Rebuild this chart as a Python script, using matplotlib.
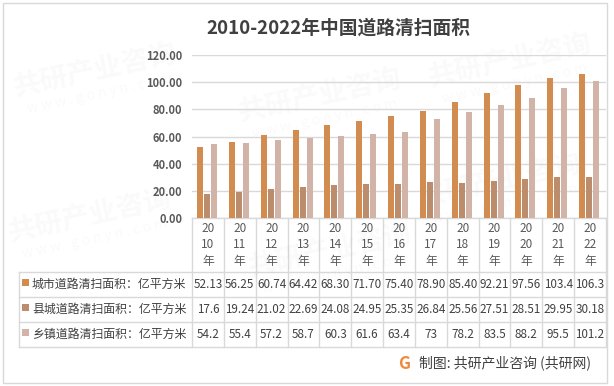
import numpy as np
import matplotlib
matplotlib.use("Agg")
import matplotlib.pyplot as plt
from matplotlib.patches import Rectangle

plt.rcParams["font.family"] = ["Noto Sans CJK SC", "DejaVu Sans"]

years = [str(y) for y in range(2010, 2023)]
series_names = ["城市道路清扫面积：亿平方米", "县城道路清扫面积：亿平方米", "乡镇道路清扫面积：亿平方米"]
city = [52.13, 56.25, 60.74, 64.42, 68.30, 71.70, 75.40, 78.90, 85.40, 92.21, 97.56, 103.4, 106.3]
county = [17.6, 19.24, 21.02, 22.69, 24.08, 24.95, 25.35, 26.84, 25.56, 27.51, 28.51, 29.95, 30.18]
town = [54.2, 55.4, 57.2, 58.7, 60.3, 61.6, 63.4, 73, 78.2, 83.5, 88.2, 95.5, 101.2]
city_txt = ["52.13", "56.25", "60.74", "64.42", "68.30", "71.70", "75.40", "78.90", "85.40",
            "92.21", "97.56", "103.4", "106.3"]
county_txt = ["17.6", "19.24", "21.02", "22.69", "24.08", "24.95", "25.35", "26.84", "25.56",
              "27.51", "28.51", "29.95", "30.18"]
town_txt = ["54.2", "55.4", "57.2", "58.7", "60.3", "61.6", "63.4", "73", "78.2", "83.5",
            "88.2", "95.5", "101.2"]
colors = ["#D38C4F", "#BC8D6C", "#D2B3A8"]
title = "2010-2022年中国道路清扫面积"
source = "制图: 共研产业咨询 (共研网)"

W, H = 614, 386
fig = plt.figure(figsize=(W / 100, H / 100), dpi=100)

# overlay in pixel coords for the table / frame
ov = fig.add_axes([0, 0, 1, 1])
ov.set_xlim(0, W)
ov.set_ylim(H, 0)
ov.axis("off")

grid_c = "#D9D9D9"
txt_c = "#404040"
left, right, top, base = 192, 606, 55, 218
colw = (right - left) / len(years)

ov.add_patch(Rectangle((3, 3), 604, 380, fill=False, ec="#D9D9D9", lw=1))

# faint watermarks
for (wx, wy) in [(95, 70), (320, 95), (510, 60), (330, 250), (90, 215), (500, 180)]:
    ov.text(wx, wy, "共研产业咨询", fontsize=20, fontweight="bold", color="#999999", alpha=0.05,
            rotation=12, ha="center", va="center")
    ov.text(wx + 5, wy + 24, "w w w . g o n y n . c o m", fontsize=10, color="#999999",
            alpha=0.05, rotation=12, ha="center", va="center")

# table lines
ov.plot([left, right], [base, base], color=grid_c, lw=1)
for yy in [272, 297, 322, 347]:
    ov.plot([19, right], [yy, yy], color=grid_c, lw=1)
ov.plot([19, 19], [272, 347], color=grid_c, lw=1)
for k in range(len(years) + 1):
    xx = left + k * colw
    ov.plot([xx, xx], [base, 347], color=grid_c, lw=1)

# header year labels
for k, y in enumerate(years):
    cx = left + (k + 0.5) * colw
    ov.text(cx, 228, y[:2], ha="center", va="center", fontsize=8.5, color="#595959")
    ov.text(cx, 244, y[2:], ha="center", va="center", fontsize=8.5, color="#595959")
    ov.text(cx, 261, "年", ha="center", va="center", fontsize=8.5, color="#595959")

# table rows
rows = [city_txt, county_txt, town_txt]
row_y = [284.5, 309.5, 334.5]
for name, vals, c, ry in zip(series_names, rows, colors, row_y):
    ov.add_patch(Rectangle((22, ry - 5.5), 7, 7, color=c, lw=0))
    ov.text(32, ry, name, ha="left", va="center", fontsize=8.6, color=txt_c)
    for k, v in enumerate(vals):
        ov.text(left + (k + 0.5) * colw, ry, v, ha="center", va="center", fontsize=8.4,
                color=txt_c)

ov.text(338, 28, title, ha="center", va="center", fontsize=13.5, fontweight="bold",
        color="#404040")
ov.text(404, 364, "G", ha="center", va="center", fontsize=12, fontweight="bold",
        color="#F0883A")
ov.text(419, 363, source, ha="left", va="center", fontsize=10, color=txt_c)

# bar chart
ax = fig.add_axes([left / W, 1 - base / H, (right - left) / W, (base - top) / H])
ax.patch.set_alpha(0)
x = np.arange(len(years))
bw = 6 / colw
step = 7 / colw
for i, (vals, c) in enumerate(zip([city, county, town], colors)):
    ax.bar(x + (i - 1) * step - 0.03, vals, width=bw, color=c, zorder=3)
ax.set_xlim(-0.5, len(years) - 0.5)
ax.set_ylim(0, 120)
ax.set_yticks(np.arange(0, 121, 20))
ax.set_yticklabels([f"{v:.2f}" for v in np.arange(0, 121, 20)], fontsize=8,
                   fontweight="bold", color="#595959")
ax.tick_params(axis="y", length=0, pad=7)
ax.set_xticks([])
ax.grid(axis="y", color=grid_c, lw=1, zorder=0)
for s in ax.spines.values():
    s.set_visible(False)

fig.savefig("out.png", dpi=100)
